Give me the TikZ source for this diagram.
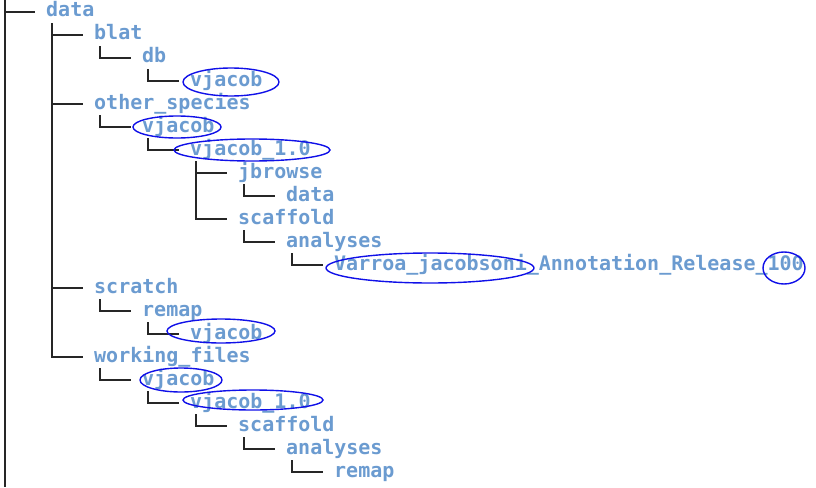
\documentclass[tikz,border=0pt]{standalone}
\usepackage{fontspec}
\newfontfamily\mono{DejaVu Sans Mono}
\definecolor{dirc}{HTML}{6B9BD0}
\definecolor{pen}{HTML}{1010E8}
\begin{document}
\begin{tikzpicture}[x=1pt,y=-1pt,
  t/.style={anchor=west,inner sep=0pt,text height=14pt,text depth=4pt,font=\mono\bfseries\fontsize{20}{20}\selectfont,text=dirc},
  br/.style={line width=1.2pt,black!85},
  penmark/.style={pen,line width=1.4pt}]
\useasboundingbox (0,0) rectangle (816,487);
\node[t] (a) at (46,12) {data};
\node[t] (b) at (94,35) {blat};
\node[t] (c) at (142,58) {db};
\node[t] (d) at (190,81) {vjacob};
\node[t] (e) at (94,104) {other\_species};
\node[t] (f) at (142,127) {vjacob};
\node[t] (g) at (190,150) {vjacob\_1.0};
\node[t] (h) at (238,173) {jbrowse};
\node[t] (i) at (286,196) {data};
\node[t] (j) at (238,219) {scaffold};
\node[t] (k) at (286,242) {analyses};
\node[t] (l) at (334,265) {Varroa\_jacobsoni\_Annotation\_Release\_100};
\node[t] (m) at (94,288) {scratch};
\node[t] (n) at (142,311) {remap};
\node[t] (o) at (190,334) {vjacob};
\node[t] (p) at (94,357) {working\_files};
\node[t] (q) at (142,380) {vjacob};
\node[t] (r) at (190,403) {vjacob\_1.0};
\node[t] (s) at (238,426) {scaffold};
\node[t] (tt) at (286,449) {analyses};
\node[t] (u) at (334,472) {remap};
\coordinate (top) at (5,0);
\coordinate (bot) at (5,487);
\draw[br] (top) -- (bot);
\draw[br] (5,12) -- ([xshift=-11]a.west);
\foreach \p/\c in {a/b,a/e,a/m,a/p,b/c,c/d,e/f,f/g,g/h,g/j,h/i,j/k,k/l,m/n,n/o,p/q,q/r,r/s,s/tt,tt/u}
  \draw[br] ([xshift=6,yshift=-2]\p.south west) |- ([xshift=-11]\c.west);
\draw[penmark] (231,82) ellipse [x radius=48,y radius=14];
\draw[penmark] (177,127) ellipse [x radius=44,y radius=11];
\draw[penmark] (252,150) ellipse [x radius=78,y radius=11];
\draw[penmark] (430,268) ellipse [x radius=104,y radius=15];
\draw[penmark] (784,268) ellipse [x radius=21,y radius=16];
\draw[penmark] (221,331) ellipse [x radius=54,y radius=12];
\draw[penmark] (181,380) ellipse [x radius=41,y radius=12];
\draw[penmark] (253,400) ellipse [x radius=70,y radius=10];
\end{tikzpicture}
\end{document}
